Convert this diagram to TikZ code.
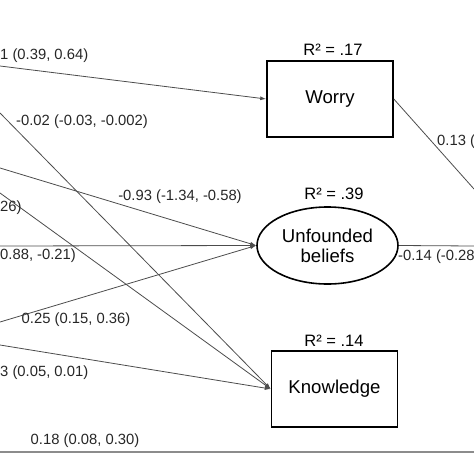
\documentclass[tikz,border=0pt]{standalone}
\usepackage{fontspec}
\setmainfont{Liberation Sans}
\usetikzlibrary{arrows.meta,shapes.geometric}

\tikzset{
  var/.style={draw,line width=1.6pt,minimum width=126pt,minimum height=76pt,font=\fontsize{18.6}{20}\selectfont},
  latent/.style={ellipse,draw,line width=1.6pt,minimum width=141pt,minimum height=77pt,align=center,font=\fontsize{18.6}{20}\selectfont},
  rsq/.style={font=\fontsize{16.5}{18}\selectfont,inner sep=0pt},
  coef/.style={font=\fontsize{14.8}{17}\selectfont,inner sep=0pt,text=black!85},
  effect/.style={draw=black!70,line width=0.8pt,-{Latex[length=6pt,width=4pt]}},
}

\begin{document}
\begin{tikzpicture}[x=1pt,y=-1pt]
\useasboundingbox (0,0) rectangle (474,474);
% outcome nodes
\node[var] (worry) at (330,99) {Worry};
\node[latent] (unfounded) at (327.5,245.5) {Unfounded\\beliefs};
\node[var] (knowledge) at (334.5,389) {Knowledge};
\node[rsq] (r2worry) at (333,50) {R² = .17};
\node[rsq] (r2unfounded) at (334,194) {R² = .39};
\node[rsq] (r2knowledge) at (334,341) {R² = .14};
% predictors beyond the left edge
\coordinate (s1) at (0,66);
\coordinate (s2) at (0,113);
\coordinate (s3) at (0,168);
\coordinate (s4) at (0,193);
\coordinate (s5) at (0,246);
\coordinate (s6) at (0,322);
\coordinate (s7) at (0,345);
\coordinate (r1) at (474,189);
\coordinate (r2) at (474,246);
\coordinate (b1) at (0,452);
\coordinate (b2) at (474,452);
% paths
\draw[effect] (s1) -- (worry.west);
\draw[effect] (s2) -- (knowledge.west);
\draw[effect] (s3) -- (unfounded.west);
\draw[effect] (s4) -- (knowledge.west);
\draw[effect] (s5) -- (unfounded.west);
\draw[effect] (s6) -- (unfounded.west);
\draw[effect] (s7) -- (knowledge.west);
\draw[draw=black!70,line width=0.8pt] (worry.east) -- (r1);
\draw[draw=black!70,line width=0.8pt] (unfounded.east) -- (r2);
\draw[draw=black!45,line width=1.5pt] (b1) -- (b2);
% coefficients
\node[coef,anchor=west] (c1) at (0,56) {1 (0.39, 0.64)};
\node[coef] (c2) at (82,122) {-0.02 (-0.03, -0.002)};
\node[coef] (c3) at (180,197) {-0.93 (-1.34, -0.58)};
\node[coef,anchor=west] (c4) at (0,208) {26)};
\node[coef,anchor=west] (c5) at (0,256) {0.88, -0.21)};
\node[coef] (c6) at (76,320) {0.25 (0.15, 0.36)};
\node[coef,anchor=west] (c7) at (0,373) {3 (0.05, 0.01)};
\node[coef] (c8) at (85,441) {0.18 (0.08, 0.30)};
\node[coef,anchor=west] (c9) at (437,142) {0.13 (};
\node[coef,anchor=west] (c10) at (398,257) {-0.14 (-0.28};
\end{tikzpicture}
\end{document}
